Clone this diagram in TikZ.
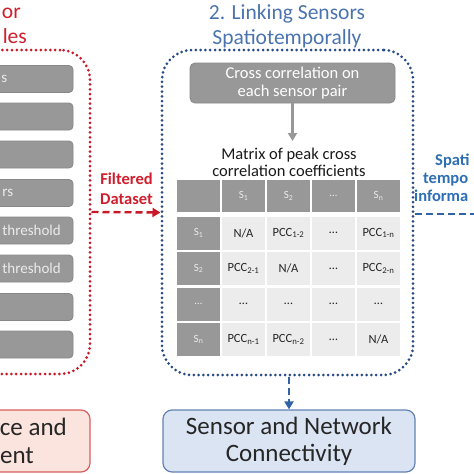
\documentclass[tikz,border=0pt]{standalone}
\usepackage{fontspec}
\setmainfont{Carlito}
\usetikzlibrary{arrows.meta}
\definecolor{redline}{RGB}{200,25,40}
\definecolor{redtext}{RGB}{208,30,45}
\definecolor{bluedot}{RGB}{40,75,135}
\definecolor{bluetitle}{RGB}{75,115,175}
\definecolor{bluetext}{RGB}{45,110,180}
\definecolor{bluearrow}{RGB}{50,100,165}
\definecolor{boxgray}{RGB}{152,152,152}
\definecolor{boxedge}{RGB}{135,135,135}
\definecolor{cellgray}{RGB}{236,236,236}
\definecolor{celltext}{RGB}{235,235,235}
\definecolor{pinkfill}{RGB}{251,228,222}
\definecolor{pinkedge}{RGB}{215,95,95}
\definecolor{bluefill}{RGB}{218,228,242}
\definecolor{blueedge}{RGB}{100,130,180}

\begin{document}
\begin{tikzpicture}[
  x=1pt,
  y=-1pt,
  line cap=round,
  line join=round,
  dotpanel/.style={line width=3pt,dash pattern=on 0pt off 4.8pt,
    rounded corners=30pt,inner sep=0pt},
  graybox/.style={draw=boxedge,fill=boxgray,rounded corners=4pt,
    line width=0.8pt,inner sep=0pt},
  boxtext/.style={text=celltext,inner sep=0pt,
    font=\fontsize{15}{17}\selectfont},
  darkcell/.style={fill=boxgray,minimum width=43,minimum height=33,
    inner sep=0pt,text=celltext,font=\fontsize{11}{13}\selectfont},
  lightcell/.style={fill=cellgray,minimum width=43,minimum height=33,
    inner sep=0pt,text=black!85,font=\fontsize{12.5}{14}\selectfont},
  endbox/.style={rounded corners=9pt,line width=1.2pt,inner sep=0pt,
    minimum height=62},
  bigtext/.style={inner sep=0pt,text=black!85,
    font=\fontsize{25}{27}\selectfont},
  steptitle/.style={inner sep=0pt,align=center,
    font=\fontsize{21.5}{25}\selectfont},
  flowlabel/.style={inner sep=0pt,align=center,
    font=\fontsize{16.5}{20}\selectfont\bfseries},
  flowarrow/.style={line width=2.4pt,line cap=butt,
    dash pattern=on 7pt off 4pt,-{Triangle[length=8pt,width=9pt]}}
]
  \useasboundingbox (0,0) rectangle (474,474);
  \clip (0,0) rectangle (474,474);

  % 1. Left panel: filtering steps (cut at the left edge).
  \node[steptitle,text=redtext,anchor=base east] (tl1) at (21,18) {or};
  \node[steptitle,text=redtext,anchor=base east] (tl2) at (27,43) {les};
  \node[dotpanel,draw=redline,minimum width=150,minimum height=324]
    (redpanel) at (15,212) {};
  \foreach \k/\yy in {1/79,2/116.5,3/154.5,4/193,5/230.5,6/268.5,
      7/307,8/344.5} {
    \node[graybox,minimum width=133,minimum height=27] (f\k) at (6.5,\yy) {};
  }
  \foreach \k/\yy/\xe/\lab in {1/79/7.5/s,4/193/13.5/rs,
      5/230.5/61/threshold,6/268.5/61/threshold} {
    \node[boxtext,anchor=east] (ft\k) at (\xe,\yy) {\lab};
  }
  \node[endbox,draw=pinkedge,fill=pinkfill,minimum width=190]
    (left) at (-5,441) {};
  \node[bigtext,anchor=base east] (lt1) at (67,435) {ce and};
  \node[bigtext,anchor=base east] (lt2) at (34,463) {ent};

  % 2. Linking sensors spatiotemporally.
  \node[steptitle,text=bluetitle] (t2) at (287,26)
    {2. Linking Sensors\\Spatiotemporally};
  \node[dotpanel,draw=bluedot,minimum width=251,minimum height=325]
    (bluepanel) at (287.5,212.5) {};
  \node[graybox,text=white,align=center,minimum width=205,minimum height=40,
    rounded corners=5pt,font=\fontsize{16.5}{18}\selectfont]
    (xcorr) at (292.5,83) {Cross correlation on\\each sensor pair};
  \node[inner sep=0pt,align=center,text=black!90,
    font=\fontsize{16.5}{17}\selectfont]
    (mattitle) at (289,162.5) {Matrix of peak cross\\correlation coefficients};
  \draw[draw=boxgray,line width=2.4pt,line cap=butt,
    -{Triangle[length=8pt,width=9pt]},shorten >=7pt]
    (xcorr.south) -- (xcorr.south |- mattitle.north);

  % Filtered data passed on.
  \node[flowlabel,text=redtext] (filt) at (126.5,189) {Filtered\\Dataset};
  \draw[flowarrow,redline] (redpanel.east) -- (bluepanel.west);

  % Matrix of peak cross correlation coefficients.
  \foreach \c/\lab in {0/{},1/{S\textsubscript{1}},2/{S\textsubscript{2}},
      3/{\dots},4/{S\textsubscript{n}}} {
    \node[darkcell,minimum height=32] (h\c) at ({198.5+45*\c},196) {\lab};
  }
  \foreach \r/\yy/\sa/\pa/\pb/\pc/\pd in {
      1/233/{S\textsubscript{1}}/{N/A}/{PCC\textsubscript{1-2}}/{\dots}/{PCC\textsubscript{1-n}},
      2/268.5/{S\textsubscript{2}}/{PCC\textsubscript{2-1}}/{N/A}/{\dots}/{PCC\textsubscript{2-n}},
      3/304/{\dots}/{\dots}/{\dots}/{\dots}/{\dots},
      4/339.5/{S\textsubscript{n}}/{PCC\textsubscript{n-1}}/{PCC\textsubscript{n-2}}/{\dots}/{N/A}} {
    \node[darkcell] (c\r-0) at (198.5,\yy) {\sa};
    \node[lightcell] (c\r-1) at (243.5,\yy) {\pa};
    \node[lightcell] (c\r-2) at (288.5,\yy) {\pb};
    \node[lightcell] (c\r-3) at (333.5,\yy) {\pc};
    \node[lightcell] (c\r-4) at (378.5,\yy) {\pd};
  }

  % Spatio-temporal information passed on (cut at the right edge).
  \foreach \k/\xs/\yy/\lab in {1/435/165/Spati,2/423/183/tempo,
      3/414/201/informa} {
    \node[flowlabel,text=bluetext,anchor=base west] (info\k) at (\xs,\yy) {\lab};
  }
  \coordinate (infoend) at (490,214);
  \draw[flowarrow,bluearrow,-] (bluepanel.east |- infoend) -- (infoend);

  % Sensor and network connectivity.
  \node[endbox,draw=blueedge,fill=bluefill,minimum width=252,align=center,
    text=black!85,font=\fontsize{25}{27}\selectfont]
    (conn) at (289,441) {Sensor and Network\\Connectivity};
  \draw[flowarrow,bluearrow] (bluepanel.south -| conn.north) -- (conn.north);
\end{tikzpicture}
\end{document}
